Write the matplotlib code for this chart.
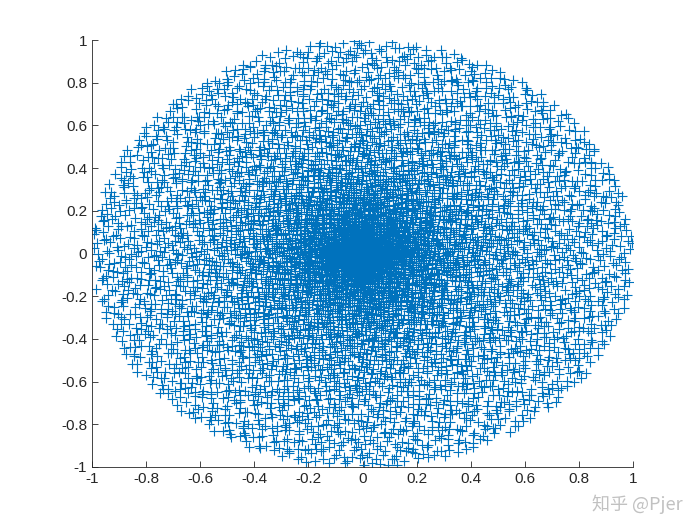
import numpy as np
import matplotlib
matplotlib.use("Agg")
import matplotlib.pyplot as plt

# Point cloud: uniform radius and angle in the unit disk (dense at centre),
# built from a low-discrepancy Halton sequence (bases 2 and 3)
n_points = 7000

def halton(i, b):
    f, r = 1.0, 0.0
    while i > 0:
        f /= b
        r += f * (i % b)
        i //= b
    return r

radius = np.array([halton(i + 1, 2) for i in range(n_points)])
theta = 2 * np.pi * np.array([halton(i + 1, 3) for i in range(n_points)])
x = radius * np.cos(theta)
y = radius * np.sin(theta)

ticks = [-1, -0.8, -0.6, -0.4, -0.2, 0, 0.2, 0.4, 0.6, 0.8, 1]
tick_labels = ["-1", "-0.8", "-0.6", "-0.4", "-0.2", "0", "0.2", "0.4", "0.6", "0.8", "1"]

plt.rcParams['font.family'] = ['Liberation Sans', 'DejaVu Sans']
fig = plt.figure(figsize=(7, 5.25), dpi=100)
ax = fig.add_axes([92/700, 58/525, 541/700, 427/525])
ax.plot(x, y, '+', color='#0072BD', markersize=7, markeredgewidth=0.8)
ax.set_xlim(-1, 1)
ax.set_ylim(-1, 1)
ax.set_xticks(ticks)
ax.set_xticklabels(tick_labels)
ax.set_yticks(ticks)
ax.set_yticklabels(tick_labels)
ax.spines['top'].set_visible(False)
ax.spines['right'].set_visible(False)
for s in ['left', 'bottom']:
    ax.spines[s].set_color('#262626')
    ax.spines[s].set_linewidth(0.6)
ax.tick_params(direction='in', length=4, labelsize=11, colors='#262626', width=0.6)
fig.text(0.975, 0.02, "知乎 @Pjer", ha='right', va='bottom', fontsize=13,
         color='#bbbbbb', alpha=0.9, family=['Noto Sans CJK SC', 'DejaVu Sans'])
fig.savefig("out.png", dpi=100)
